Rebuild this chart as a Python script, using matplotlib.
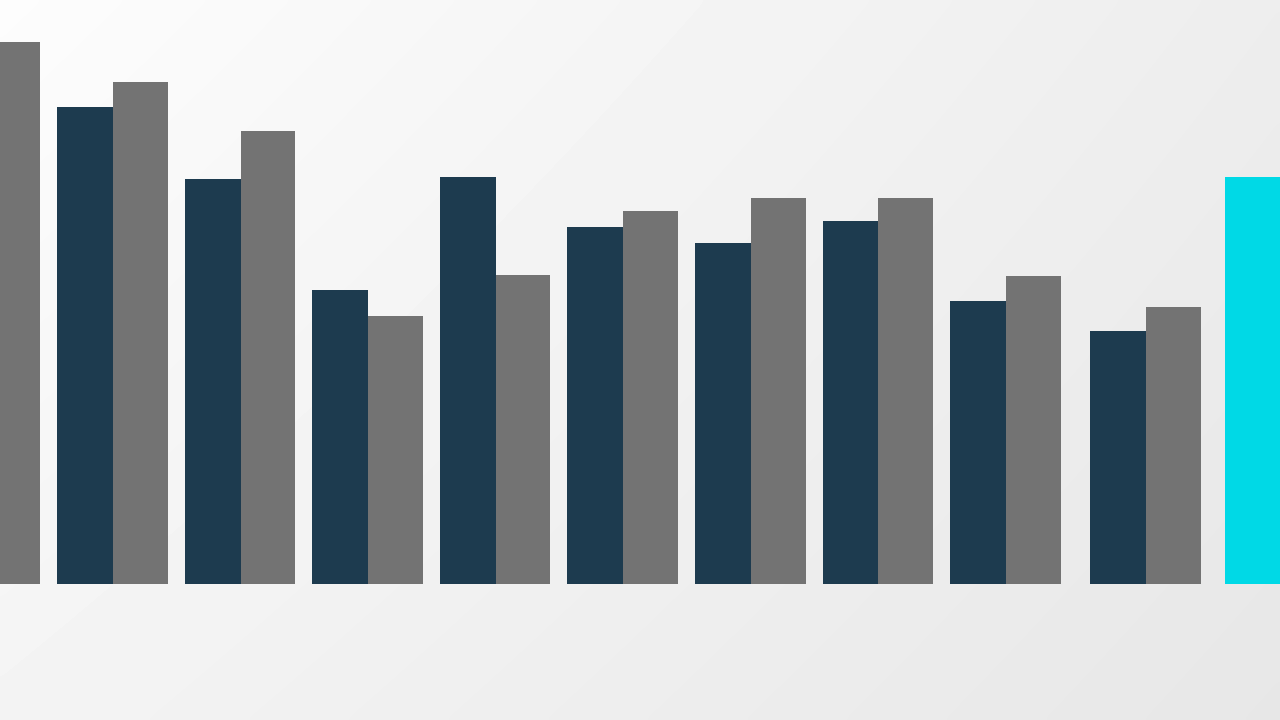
import numpy as np
import matplotlib
matplotlib.use('Agg')
import matplotlib.pyplot as plt

# bar heights (arbitrary units, baseline = 0)
navy_vals = [None, 95.4, 81.0, 58.8, 81.4, 71.4, 68.2, 72.6, 56.6, 50.6]
grey_vals = [108.4, 100.4, 90.6, 53.6, 61.8, 74.6, 77.2, 77.2, 61.6, 55.4]
cyan_val = 81.4

# group centres (the boundary between the two bars of a pair)
group_pos = [0, 1, 2, 3, 4, 5, 6, 7, 8, 9.1]
cyan_pos = 10.0

NAVY = '#1d3b4f'
GREY = '#737373'
CYAN = '#00d9e6'


def main():
    fig = plt.figure(figsize=(12.8, 7.2), dpi=100)
    ax = fig.add_axes([0, 0, 1, 1])

    x0, x1 = 0.114, 10.148
    y0, y1 = -27.2, 116.8
    ax.set_xlim(x0, x1)
    ax.set_ylim(y0, y1)

    # soft light-grey background gradient
    tl, tr, bl, br = 0.99, 0.93, 0.955, 0.905
    u = np.linspace(0, 1, 256)
    v = np.linspace(0, 1, 144)[:, None]
    top = tl + (tr - tl) * u
    bot = bl + (br - bl) * u
    grad = top * (1 - v) + bot * v
    ax.imshow(grad, cmap='gray', vmin=0, vmax=1, extent=[x0, x1, y0, y1],
              aspect='auto', origin='upper', zorder=0, interpolation='bicubic')

    w = 0.438
    for p, nv, gv in zip(group_pos, navy_vals, grey_vals):
        if nv is not None:
            ax.bar(p - w, nv, width=w, align='edge', color=NAVY, zorder=2)
        ax.bar(p, gv, width=w * 0.98, align='edge', color=GREY, zorder=2)
    ax.bar(cyan_pos - 0.283, cyan_val, width=w * 1.2, align='edge', color=CYAN, zorder=2)

    ax.axis('off')
    fig.savefig('out.png', dpi=100)


if __name__ == "__main__":
    main()
